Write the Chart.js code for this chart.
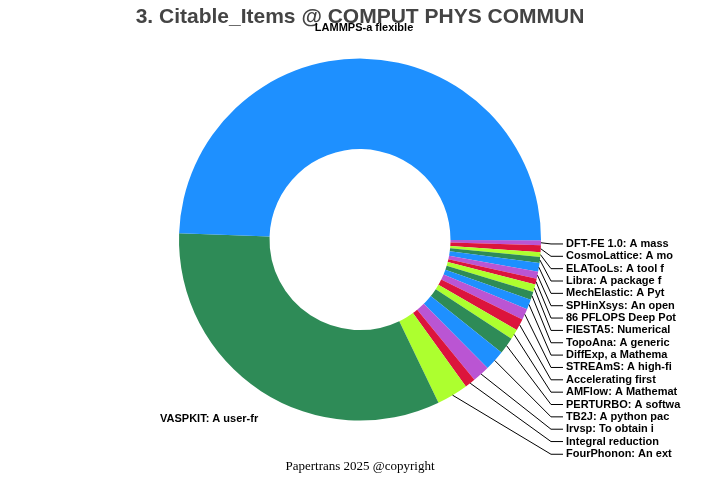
<!DOCTYPE html>
<html>
<head>
<meta charset="utf-8">
<title>Citable_Items @ COMPUT PHYS COMMUN</title>
<script src="https://cdn.jsdelivr.net/npm/chart.js@4/dist/chart.umd.min.js"></script>
<style>
  html, body { margin: 0; padding: 0; background: #fff; }
  #wrap { width: 720px; height: 480px; }
</style>
</head>
<body>
<div id="wrap"><canvas id="pie"></canvas></div>
<script>
// paper titles (cut short like in the original) and their citable item counts
var papers = ['LAMMPS-a flexible', 'VASPKIT: A user-fr', 'FourPhonon: An ext',
    'Integral reduction', 'Irvsp: To obtain i', 'TB2J: A python pac',
    'PERTURBO: A softwa', 'AMFlow: A Mathemat', 'Accelerating first',
    'STREAmS: A high-fi', 'DiffExp, a Mathema', 'TopoAna: A generic',
    'FIESTA5: Numerical', '86 PFLOPS Deep Pot', 'SPHinXsys: An open',
    'MechElastic: A Pyt', 'Libra: A package f', 'ELATooLs: A tool f',
    'CosmoLattice: A mo', 'DFT-FE 1.0: A mass'];
var counts = [1782, 1177, 101, 34, 56, 66, 54, 32, 38, 36,
    32, 26, 24, 19, 23, 28, 19, 15, 22, 16];
var palette = ['#1E90FF', '#2E8B57', '#ADFF2F', '#DC143C', '#BA55D3'];

var colors = papers.map((p, i) => palette[i % palette.length]);

// the original runs counter-clockwise, chart.js goes clockwise -> reverse
var drawLabels = papers.slice().reverse();
var drawCounts = counts.slice().reverse();
var drawColors = colors.slice().reverse();

var FONT = '"Liberation Sans", Arial, sans-serif';

var sliceLabels = {
    id: 'sliceLabels',
    afterDatasetsDraw(chart) {
        var ctx = chart.ctx;
        var meta = chart.getDatasetMeta(0);
        var small = [];

        ctx.save();
        ctx.font = 'bold 11px ' + FONT;
        ctx.fillStyle = '#000';
        ctx.strokeStyle = '#000';
        ctx.lineWidth = 1;
        ctx.textBaseline = 'middle';

        meta.data.forEach((arc, j) => {
            var p = arc.getProps(['x', 'y', 'startAngle', 'endAngle', 'outerRadius'], true);
            var mid = (p.startAngle + p.endAngle) / 2;
            var share = (p.endAngle - p.startAngle) / (Math.PI * 2);
            var item = { label: drawLabels[j], mid: mid, p: p };

            if (share > 0.2) {
                // big slices: label just outside the ring, no leader
                var r = p.outerRadius * 1.17;
                var lx = p.x + Math.cos(mid) * r;
                var ly = p.y + Math.sin(mid) * r;
                if (Math.abs(Math.cos(mid)) < 0.2) {
                    ctx.textAlign = 'center';
                } else if (Math.cos(mid) < 0) {
                    ctx.textAlign = 'right';
                    lx += 14;
                    ly += 2;
                } else {
                    ctx.textAlign = 'left';
                }
                ctx.fillText(item.label, lx, ly);
            } else {
                small.push(item);
            }
        });

        // small slices: stacked labels on the right with leader lines
        small.sort((a, b) => a.mid - b.mid);
        var gap = 12.35;
        var prev = -Infinity;
        small.forEach((s) => {
            var want = s.p.y + Math.sin(s.mid) * s.p.outerRadius * 1.38;
            s.ly = Math.max(want, prev + gap);
            prev = s.ly;
        });

        var elbowX = small.length ? small[0].p.x + small[0].p.outerRadius + 10 : 0;
        ctx.textAlign = 'left';
        small.forEach((s) => {
            var ex = s.p.x + Math.cos(s.mid) * s.p.outerRadius;
            var ey = s.p.y + Math.sin(s.mid) * s.p.outerRadius;
            ctx.beginPath();
            ctx.moveTo(ex, ey);
            ctx.lineTo(elbowX, s.ly);
            ctx.lineTo(elbowX + 12, s.ly);
            ctx.stroke();
            ctx.fillText(s.label, elbowX + 15, s.ly);
        });
        ctx.restore();
    }
};

var ctx = document.getElementById('pie').getContext('2d');
var myChart = new Chart(ctx, {
    type: 'doughnut',
    data: {
        labels: drawLabels,
        datasets: [{
            data: drawCounts,
            backgroundColor: drawColors,
            borderWidth: 0,
            radius: 181,
            cutout: '50%'
        }]
    },
    options: {
        responsive: true,
        maintainAspectRatio: false,
        animation: false,
        devicePixelRatio: 1,
        rotation: 90.2,
        layout: { padding: 0 },
        plugins: {
            legend: { display: false },
            tooltip: { enabled: false },
            title: {
                display: true,
                text: '3. Citable_Items @ COMPUT PHYS COMMUN',
                color: '#444',
                font: { family: FONT, size: 21, weight: 'bold' },
                padding: { top: 5, bottom: 0 }
            },
            subtitle: {
                display: true,
                position: 'bottom',
                text: 'Papertrans 2025 @copyright',
                color: '#000',
                font: { family: '"Liberation Serif", "Times New Roman", serif', size: 13, weight: 'normal' },
                padding: { top: 9.4, bottom: 6 }
            }
        }
    },
    plugins: [sliceLabels]
});
</script>
</body>
</html>
